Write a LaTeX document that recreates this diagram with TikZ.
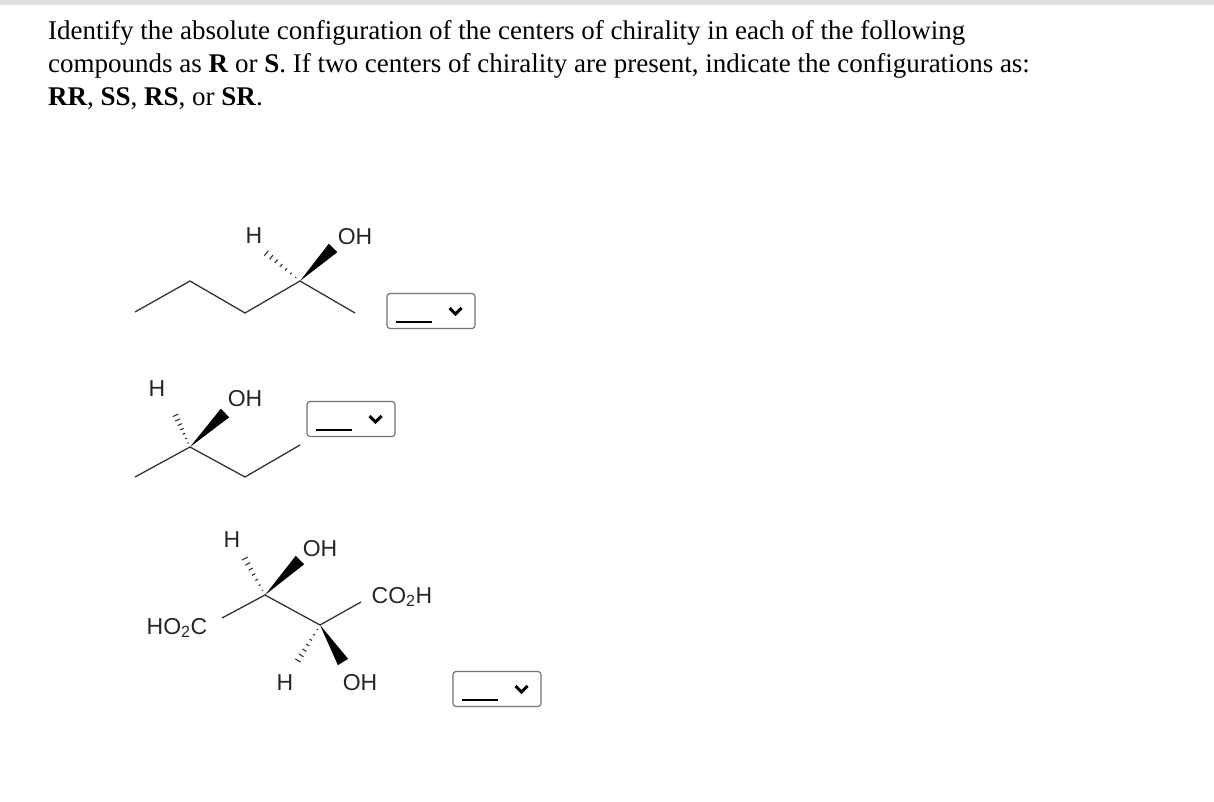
\documentclass[tikz,border=0pt]{standalone}
\usepackage{fontspec}
\setmainfont{Liberation Serif}
\newfontfamily\arialf{Liberation Sans}
\usetikzlibrary{calc}
\begin{document}
\begin{tikzpicture}[x=1pt,y=-1pt,
  bond/.style={line width=1.3pt,draw=black!80},
  lab/.style={font=\arialf\fontsize{23}{23}\selectfont,inner sep=0pt,text=black!85},
  para/.style={font=\fontsize{27}{30}\selectfont,anchor=base west,inner sep=0pt},
  ddbox/.style={draw=black!55,line width=1.2pt,rounded corners=3pt,minimum width=88pt,minimum height=35pt,inner sep=0pt}]
\useasboundingbox (0,0) rectangle (1214,802);
\fill[black!12] (0,0) rectangle (1214,5);
\node[para] (t1) at (48,40) {Identify the absolute configuration of the centers of chirality in each of the following};
\node[para] (t2) at (48,73) {compounds as \textbf{R} or \textbf{S}. If two centers of chirality are present, indicate the configurations as:};
\node[para] (t3) at (48,106) {\textbf{RR}, \textbf{SS}, \textbf{RS}, or \textbf{SR}.};
\newcommand{\hashc}[2]{\foreach \t in {0.12,0.26,...,1.0}{\pgfmathsetmacro{\hw}{0.3+3*\t}\path (#1) -- (#2) coordinate[pos=\t] (hp); \draw[line width=1.1pt,black!80] ($(hp)!\hw pt!90:(#2)$) -- ($(hp)!\hw pt!-90:(#2)$);}}
\newcommand{\dd}[2]{\node[ddbox] (#1) at (#2) {};
  \draw[line width=1.2pt] ($(#1.west)+(10,11)$) -- ($(#1.west)+(46,11)$);
  \draw[line width=3pt] ($(#1.east)+(-26,-3)$) -- ($(#1.east)+(-20,3)$) -- ($(#1.east)+(-14,-3)$);}
% molecule 1
\coordinate (a1) at (135,312); \coordinate (a2) at (190,281); \coordinate (a3) at (245,313);
\coordinate (c1) at (300,281); \coordinate (a5) at (355,313);
\coordinate (h1) at (265,252); \coordinate (o1) at (333,248);
\draw[bond] (a1)--(a2)--(a3)--(c1)--(a5);
\hashc{c1}{h1}
\fill[black] (c1) -- ($(o1)!6pt!90:(c1)$) -- ($(o1)!6pt!-90:(c1)$) -- cycle;
\node[lab] (H1) at (254,236) {H};
\node[lab] (OH1) at (355,237) {OH};
\dd{d1}{431,311}
% molecule 2
\coordinate (b1) at (135,477); \coordinate (c2) at (190,447); \coordinate (b3) at (245,477); \coordinate (b4) at (300,445);
\coordinate (h2) at (175,414); \coordinate (o2) at (225,413);
\draw[bond] (b1)--(c2)--(b3)--(b4);
\hashc{c2}{h2}
\fill[black] (c2) -- ($(o2)!6pt!90:(c2)$) -- ($(o2)!6pt!-90:(c2)$) -- cycle;
\node[lab] (H2) at (157,389) {H};
\node[lab] (OH2) at (245,399) {OH};
\dd{d2}{351,419}
% molecule 3
\coordinate (c3) at (265,595); \coordinate (c4) at (320,625);
\coordinate (l3) at (222,618); \coordinate (r4) at (361,602);
\coordinate (h3) at (244,557); \coordinate (o3) at (300,560);
\coordinate (h4) at (297,662); \coordinate (o4) at (343,662);
\draw[bond] (l3)--(c3)--(c4)--(r4);
\hashc{c3}{h3}
\hashc{c4}{h4}
\fill[black] (c3) -- ($(o3)!6pt!90:(c3)$) -- ($(o3)!6pt!-90:(c3)$) -- cycle;
\fill[black] (c4) -- ($(o4)!6pt!90:(c4)$) -- ($(o4)!6pt!-90:(c4)$) -- cycle;
\node[lab] (H3) at (232,540) {H};
\node[lab] (OH3) at (320,549) {OH};
\node[lab] (HOOC) at (177,628) {HO\textsubscript{2}C};
\node[lab] (COOH) at (402,597) {CO\textsubscript{2}H};
\node[lab] (H4) at (285,683) {H};
\node[lab] (OH4) at (360,683) {OH};
\dd{d3}{497,689}
\end{tikzpicture}
\end{document}
